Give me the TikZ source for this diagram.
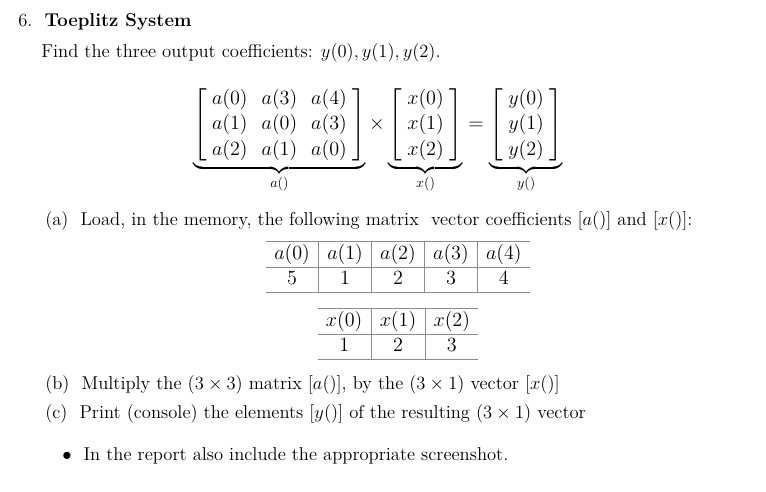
\documentclass[tikz,border=0pt]{standalone}
\usepackage{amsmath}
\usepackage{colortbl}
\begin{document}
\begin{tikzpicture}[x=1pt,y=-1pt,every node/.style={inner sep=0pt,font=\Large,scale=1.4},
  txt/.style={anchor=base west,scale=1.29/1.4}]
\useasboundingbox (0,0) rectangle (766,492);
\node[txt] (h) at (18,27) {6.\ \ \textbf{Toeplitz System}};
\node[txt] (f) at (41,58) {Find the three output coefficients: $y(0),y(1),y(2)$.};
\node (m) at (378,140) {$\underbrace{\left[\;\begin{matrix} a(0) & a(3) & a(4)\\ a(1) & a(0) & a(3)\\ a(2) & a(1) & a(0)\end{matrix}\;\right]}_{a()}
\times \underbrace{\left[\;\begin{matrix} x(0)\\ x(1)\\ x(2)\end{matrix}\;\right]}_{x()}
= \underbrace{\left[\;\begin{matrix} y(0)\\ y(1)\\ y(2)\end{matrix}\;\right]}_{y()}$};
\node[txt] (a) at (45,225) {(a)\ \ Load, in the memory, the following matrix\ \ vector coefficients $[a()]$ and $[x()]$:};
\arrayrulecolor[gray]{0.55}
\node (t1) at (398,267) {\begin{tabular}{c|c|c|c|c}\hline $a(0)$ & $a(1)$ & $a(2)$ & $a(3)$ & $a(4)$\\\hline 5 & 1 & 2 & 3 & 4\\\hline\end{tabular}};
\node (t2) at (398,334) {\begin{tabular}{c|c|c}\hline $x(0)$ & $x(1)$ & $x(2)$\\\hline 1 & 2 & 3\\\hline\end{tabular}};
\node[txt] (b) at (45,389) {(b)\ \ Multiply the $(3\times3)$ matrix $[a()]$, by the $(3\times1)$ vector $[x()]$};
\node[txt] (c) at (45,418) {(c)\ \ Print (console) the elements $[y()]$ of the resulting $(3\times1)$ vector};
\node[txt] (d) at (62,460) {$\bullet$\ \ In the report also include the appropriate screenshot.};
\end{tikzpicture}
\end{document}
